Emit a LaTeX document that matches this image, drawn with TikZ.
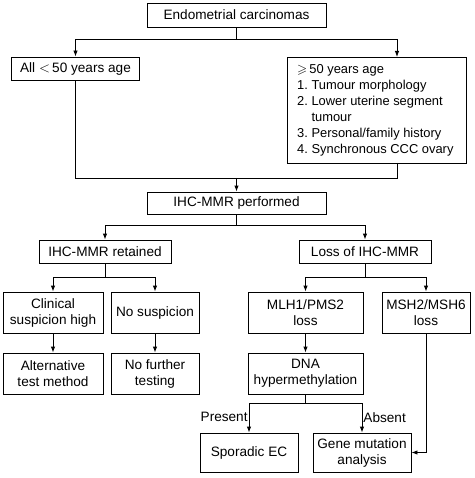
\documentclass[tikz,border=0pt]{standalone}
\usepackage{amssymb}
\usepackage{fontspec}
\setmainfont{Liberation Sans}
\usetikzlibrary{arrows.meta}
\begin{document}
\frenchspacing
\begin{tikzpicture}[x=1pt,y=-1pt,
  box/.style={draw, line width=0.9pt, align=center, inner sep=0pt, font=\fontsize{13.6}{16}\selectfont\frenchspacing},
  ln/.style={line width=0.9pt},
  arr/.style={line width=0.9pt, -{Latex[length=6pt,width=4.5pt]}},
  lbl/.style={font=\fontsize{13.6}{16}\selectfont, inner sep=1pt}]
\useasboundingbox (0,0) rectangle (474,478);
\node[box, minimum width=179pt, minimum height=24pt] (ec) at (236.5,15) {Endometrial carcinomas};
\node[box, minimum width=128pt, minimum height=23pt] (young) at (75.5,68.5) {All ${<}$\,50 years age};
\node[box, minimum width=179pt, minimum height=106pt] (old) at (376.5,110) {};
\node[align=left, inner sep=0pt, anchor=west, font=\fontsize{12.9}{16}\selectfont\frenchspacing] (oldtxt) at (297,110)
  {$\geqslant$\,50 years age\\1. Tumour morphology\\2. Lower uterine segment\\\phantom{2.}~tumour\\3. Personal/family history\\4. Synchronous CCC ovary};
\node[box, minimum width=179pt, minimum height=22pt] (ihc) at (236.5,203) {IHC-MMR performed};
\node[box, minimum width=132pt, minimum height=23pt] (ret) at (105,251.5) {IHC-MMR retained};
\node[box, minimum width=132pt, minimum height=23pt] (loss) at (365,251.5) {Loss of IHC-MMR};
\node[box, minimum width=100pt, minimum height=41pt] (clin) at (53,312.5) {Clinical\\suspicion high};
\node[box, minimum width=88pt, minimum height=41pt] (nosus) at (155,312.5) {No suspicion};
\node[box, minimum width=115pt, minimum height=41pt] (mlh) at (305.5,312.5) {MLH1/PMS2\\loss};
\node[box, minimum width=88pt, minimum height=41pt] (msh) at (426,312.5) {MSH2/MSH6\\loss};
\node[box, minimum width=100pt, minimum height=41pt] (alt) at (53,373.5) {Alternative\\test method};
\node[box, minimum width=88pt, minimum height=41pt] (nft) at (155,373.5) {No further\\testing};
\node[box, minimum width=115pt, minimum height=41pt] (dna) at (305.5,373.5) {DNA\\hypermethylation};
\node[box, minimum width=98pt, minimum height=39pt] (spor) at (249,452.5) {Sporadic EC};
\node[box, minimum width=98pt, minimum height=39pt] (gene) at (362,452.5) {Gene mutation\\analysis};
% connectors
\coordinate (j1) at (236.5,39);
\coordinate (oldin) at (397,57);
\coordinate (oldout) at (397,163);
\coordinate (j2) at (236.5,178);
\coordinate (j3) at (236.5,225);
\coordinate (j4) at (105,277);
\coordinate (j5) at (365,277);
\coordinate (j6) at (305.5,403);
\draw[ln] (ec.south) -- (j1);
\draw[arr] (j1) -| (young.north);
\draw[arr] (j1) -| (oldin);
\draw[ln] (young.south) |- (j2);
\draw[ln] (oldout) |- (j2);
\draw[arr] (j2) -- (ihc.north);
\draw[ln] (ihc.south) -- (j3);
\draw[arr] (j3) -| (ret.north);
\draw[arr] (j3) -| (loss.north);
\draw[ln] (ret.south) -- (j4);
\draw[arr] (j4) -| (clin.north);
\draw[arr] (j4) -| (nosus.north);
\draw[ln] (loss.south) -- (j5);
\draw[arr] (j5) -| (mlh.north);
\draw[arr] (j5) -| (msh.north);
\draw[arr] (clin.south) -- (alt.north);
\draw[arr] (nosus.south) -- (nft.north);
\draw[arr] (mlh.south) -- (dna.north);
\draw[ln] (dna.south) -- (j6);
\draw[arr] (j6) -| (spor.north) node[lbl, pos=0.74, left] {Present};
\draw[arr] (j6) -| (gene.north) node[lbl, pos=0.74, right] {Absent};
\draw[arr] (msh.south) |- (gene.east);
\end{tikzpicture}
\end{document}
